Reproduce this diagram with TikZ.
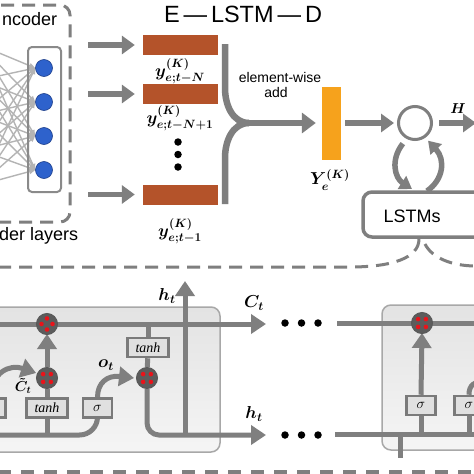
\documentclass[tikz,border=0pt]{standalone}
\usepackage{amsmath}
\usepackage{fontspec}
\setmainfont{Liberation Sans}
\newfontfamily\gatefont{Liberation Serif}
\usetikzlibrary{arrows.meta,calc}
\definecolor{gline}{HTML}{7F7F7F}
\definecolor{rust}{HTML}{B4532A}
\definecolor{orng}{HTML}{F6A21C}
\definecolor{nblue}{HTML}{2E62CC}
\definecolor{nbluedk}{HTML}{1E3F8A}
\definecolor{netgray}{HTML}{B4B4B4}
\definecolor{layerline}{HTML}{8A8A8A}
\definecolor{gatefill}{HTML}{E0E0E0}
\definecolor{gateline}{HTML}{7A7A7A}
\definecolor{mulfill}{HTML}{5C5C5C}
\definecolor{redmark}{HTML}{E8141B}
\definecolor{cellline}{HTML}{A8A8A8}
\pgfdeclarelayer{cellbg}
\pgfdeclarelayer{wire}
\pgfsetlayers{cellbg,wire,main}
\newcommand\redmarks[2]{\foreach \a in {0,90,180,270}{\fill[redmark] ($(#1)+(\a+#2:5.5)$) circle (2.3);}}
\begin{document}
\begin{tikzpicture}[x=1pt,y=-1pt,
  garrow/.style={draw=gline, line width=5.5pt, -{Triangle[length=13pt,width=18pt]}},
  garrowb/.style={draw=gline, line width=5pt, -{Triangle[length=15pt,width=19pt]}},
  garrowc/.style={draw=gline, line width=5.5pt, -{Triangle[length=12pt,width=15pt]}},
  gthick/.style={draw=gline, line width=6.5pt},
  gl/.style={draw=gline, line width=5pt},
  dashl/.style={draw=gline, line width=3pt, dash pattern=on 13pt off 8pt},
  dashl2/.style={draw=gline, line width=4pt, dash pattern=on 13pt off 10pt},
  netl/.style={draw=netgray, line width=1.4pt, -{Triangle[length=6pt,width=5pt]}},
  neuron/.style={circle, fill=nblue, draw=nbluedk, line width=0.6pt, minimum size=17pt, inner sep=0pt},
  layerbox/.style={draw=layerline, line width=2pt, rounded corners=4pt, minimum width=33pt, minimum height=145pt, inner sep=0pt},
  rustbar/.style={fill=rust, minimum width=75pt, minimum height=20pt, inner sep=0pt},
  obar/.style={fill=orng, minimum width=19pt, minimum height=73pt, inner sep=0pt},
  hcirc/.style={circle, draw=gline, line width=3pt, minimum size=33pt, inner sep=0pt},
  lstmbox/.style={draw=gline, line width=3.5pt, rounded corners=9pt, minimum width=126pt, minimum height=45pt, fill=white, inner sep=0pt},
  cellbox/.style={draw=cellline, line width=1.5pt, rounded corners=9pt, top color=gray!22, bottom color=gray!8, inner sep=0pt},
  gate/.style={draw=gateline, line width=2.5pt, fill=gatefill, minimum height=19pt, inner sep=0pt, font=\fontsize{14}{16}\selectfont},
  mulc/.style={circle, fill=mulfill, draw=gray!70!black, line width=1pt, minimum size=21pt, inner sep=0pt},
  lbl/.style={font=\fontsize{18}{20}\selectfont, inner sep=0pt},
  lbl2/.style={font=\fontsize{14}{16}\selectfont, inner sep=0pt},
  lbl3/.style={font=\fontsize{18}{20}\selectfont, inner sep=0pt},
  ttl/.style={font=\fontsize{23.5}{26}\selectfont, inner sep=0pt},
  mlbl/.style={font=\fontsize{18}{20}\selectfont, inner sep=0pt},
  clbl/.style={font=\fontsize{17}{19}\selectfont, inner sep=0pt},
  hlbl/.style={font=\fontsize{15}{17}\selectfont, inner sep=0pt},
  dotn/.style={circle, fill=black, minimum size=7.5pt, inner sep=0pt}
]
\useasboundingbox (0,0) rectangle (474,474);
\begin{pgfonlayer}{cellbg}
\fill[white] (0,0) rectangle (474,474);
\end{pgfonlayer}

% ---------- encoder ----------
\draw[dashl, rounded corners=10pt] (-20,5) -- (70,5) -- (70,222) -- (-20,222);
\node[lbl, anchor=west] (enc) at (2,19) {ncoder};
\node[lbl, anchor=west] (encl) at (-1,236) {der layers};
\node[layerbox] (layer) at (44.5,119.5) {};
\foreach \i/\y in {1/68,2/102,3/136,4/170} \node[neuron] (n\i) at (44,\y) {};
\foreach \j/\y in {1/45,2/80,3/115,4/150,5/185} \coordinate (s\j) at (-20,\y);
\begin{pgfonlayer}{wire}
\foreach \j in {1,...,5} {\foreach \i in {1,...,4} {\draw[netl] (s\j) -- (n\i.west);}}
\end{pgfonlayer}

% ---------- title ----------
\node[ttl] (title) at (243,14) {E\,—\,LSTM\,—\,D};

% ---------- bars ----------
\node[rustbar] (b1) at (180.5,45) {};
\node[rustbar] (b2) at (180.5,94) {};
\node[rustbar] (b3) at (180.5,194.5) {};
\coordinate (e1) at (88,45);
\coordinate (e2) at (88,94);
\coordinate (e3) at (88,194.5);
\draw[garrow] (e1) -- ([xshift=-8pt]b1.west);
\draw[garrow] (e2) -- ([xshift=-8pt]b2.west);
\draw[garrow] (e3) -- ([xshift=-8pt]b3.west);
\node[mlbl] (y1) at (180,71) {$\boldsymbol{y^{(K)}_{e;t-N}}$};
\node[mlbl] (y2) at (180,118) {$\boldsymbol{y^{(K)}_{e;t-N+1}}$};
\node[mlbl] (y3) at (180,231) {$\boldsymbol{y^{(K)}_{e;t-1}}$};
\node[dotn] (d1) at (178,142) {};
\node[dotn] (d2) at (178,154.5) {};
\node[dotn] (d3) at (178,167) {};

% ---------- merge ----------
\node[obar] (ybar) at (331.5,123.5) {};
\coordinate (m1) at (225,44);
\coordinate (m3) at (225,204);
\coordinate (mj) at (249,123);
\draw[gthick] (m1) -- (225,88) to[out=-90,in=180] (mj);
\draw[gthick] (m3) -- (225,158) to[out=90,in=180] (mj);
\draw[garrow, line width=6.5pt, -{Triangle[length=14pt,width=20pt]}] (246,123) -- ([xshift=-6pt]ybar.west |- mj);
\node[lbl2] (ew) at (280,77) {element-wise};
\node[lbl2] (add) at (276,92) {add};
\node[mlbl] (yl) at (330,180) {$\boldsymbol{Y_e^{(K)}}$};

% ---------- circle / H ----------
\node[hcirc] (hc) at (415,123) {};
\draw[garrow] ([xshift=4pt]ybar.east |- hc) -- ([xshift=-3pt]hc.west);
\coordinate (hend) at (476,123);
\draw[garrow] ([xshift=6pt]hc.east) -- (hend);
\node[hlbl] (H) at (458,109) {$\boldsymbol{H}$};

% ---------- LSTMs ----------
\node[lstmbox] (lstms) at (426,214.5) {};
\node[lbl3] (lstmt) at (412,216) {LSTMs};
\coordinate (lp1) at (412,189);
\coordinate (lp2) at (427,191);
\draw[garrowc, shorten <=6pt] (hc.-118) .. controls (390,160) and (395,178) .. (lp1);
\draw[garrowc, shorten >=4pt] (lp2) .. controls (443,180) and (446,160) .. (hc.-55);

% ---------- dashed connections ----------
\coordinate (dl0) at (419,239);
\coordinate (dl1) at (-2,267);
\coordinate (dr0) at (425,244);
\coordinate (dr1) at (476,266);
\draw[dashl] (dl0) .. controls (419,258) and (392,267) .. (350,267) -- (dl1);
\draw[dashl] (dr0) .. controls (432,258) and (452,266) .. (dr1);
\coordinate (bl0) at (-2,472);
\coordinate (bl1) at (476,472);
\draw[dashl2] (bl0) -- (bl1);

% ---------- LSTM cells ----------
\begin{pgfonlayer}{cellbg}
\node[cellbox, minimum width=230pt, minimum height=145pt] (cellA) at (105,379.5) {};
\node[cellbox, minimum width=108pt, minimum height=145pt] (cellB) at (436,377.5) {};
\end{pgfonlayer}

\node[mulc] (pA) at (47,324) {};
\node[mulc] (mA) at (47,378) {};
\node[mulc] (mB) at (147,378) {};
\node[gate, minimum width=41pt] (tA) at (47,408) {\gatefont\itshape tanh};
\node[gate, minimum width=29pt] (sA) at (97.5,408) {$\sigma$};
\node[gate, minimum width=29pt] (gL) at (-9,408) {};
\node[gate, minimum width=41pt] (tB) at (148,347.5) {\gatefont\itshape tanh};
\redmarks{pA}{0}
\redmarks{mA}{45}
\redmarks{mB}{45}

\begin{pgfonlayer}{wire}
\coordinate (cA0) at (-5,324);
\coordinate (cAe) at (266,324);
\draw[garrowb] (cA0) -- (cAe);
\draw[garrowb] (mA) -- ([yshift=1pt]pA.south);
\draw[gl] (tA) -- (mA);
\coordinate (busA) at (-5,435);
\draw[gl, rounded corners=18pt] (busA) -- (sA.south |- busA) -- (sA.center);
\draw[gl] (tA) -- (tA |- busA);
\draw[gl] (gL) -- (gL |- busA);
\draw[garrowb] (sA.north) .. controls (97.5,383) and (107,375) .. ([xshift=-2pt]mB.west);
\draw[garrowb, shorten >=1pt] (gL.north) .. controls (-9,372) and (10,364) .. (mA.155);
\draw[gl] (tB |- pA) -- (tB);
\draw[gl] (tB) -- (mB);
\coordinate (hAe) at (266,435);
\draw[garrowb, rounded corners=12pt] (mB) -- (mB |- hAe) -- (hAe);
\coordinate (hup) at (185,281);
\draw[garrowb] (hup |- hAe) -- (hup);
\end{pgfonlayer}

\node[clbl] (lht) at (167,296) {$\boldsymbol{h_t}$};
\node[clbl] (lot) at (106,365) {$\boldsymbol{o_t}$};
\node[clbl, font=\fontsize{14}{16}\selectfont] (lct) at (23,386) {$\boldsymbol{\tilde{C}_t}$};
\node[clbl] (lCt) at (254,303) {$\boldsymbol{C_t}$};
\node[clbl] (lh2) at (254,414) {$\boldsymbol{h_t}$};

\foreach \k/\x in {1/285,2/301.5,3/318} {
  \node[dotn] (cd\k) at (\x,323) {};
  \node[dotn] (hd\k) at (\x,435) {};
}

% cell B
\node[mulc] (pB) at (422,323) {};
\node[gate, minimum width=29pt] (sB1) at (421,405.5) {$\sigma$};
\node[gate, minimum width=29pt] (sB2) at (469,405.5) {$\sigma$};
\redmarks{pB}{45}
\begin{pgfonlayer}{wire}
\coordinate (cB0) at (337,323);
\coordinate (cBe) at (480,323);
\draw[gl] (cB0) -- (cBe);
\draw[garrowb] (sB1.north) -- ([yshift=1pt]pB.south);
\coordinate (hB0) at (335,434);
\coordinate (hBe) at (480,434);
\draw[gl] (hB0) -- (hBe);
\draw[gl] (sB1) -- (sB1 |- hB0);
\draw[gl] (sB2) -- (sB2 |- hB0);
\coordinate (xin) at (400,458);
\draw[gl] (xin |- hB0) -- (xin);
\coordinate (fB) at (488,381);
\draw[gl] (sB2.north) .. controls (469,385) and (474,381) .. (fB);
\end{pgfonlayer}
\end{tikzpicture}
\end{document}
